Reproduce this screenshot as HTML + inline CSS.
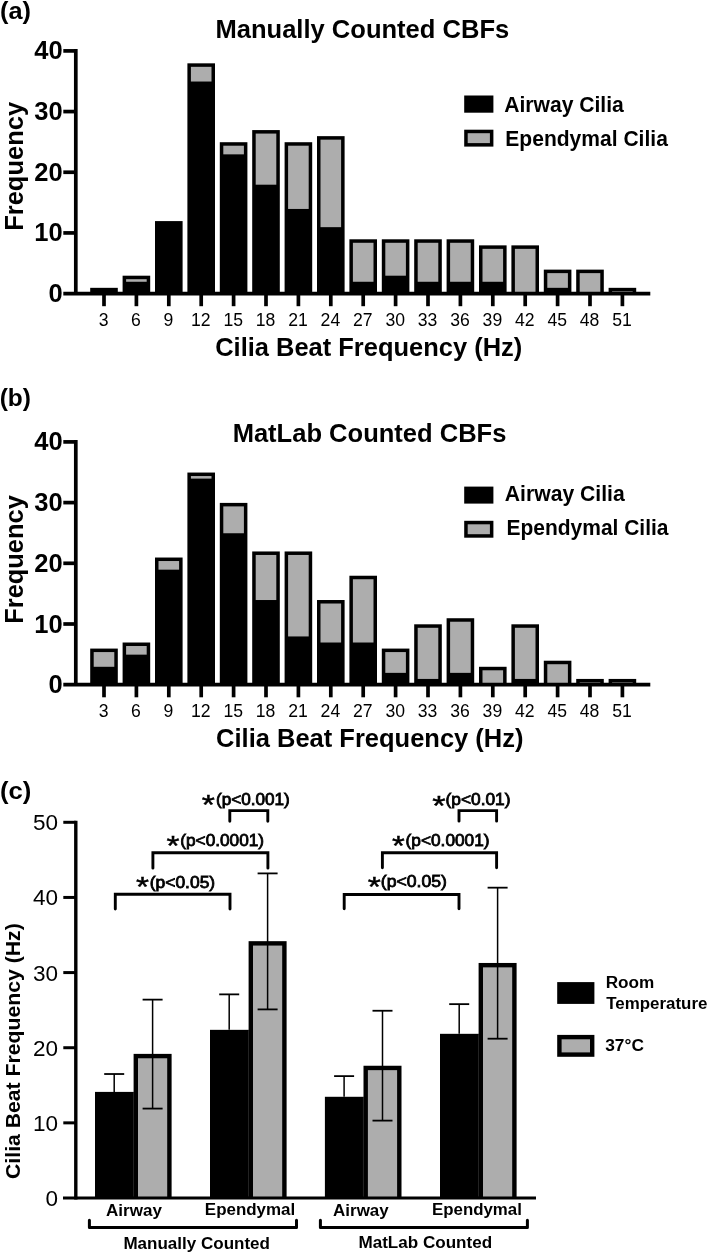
<!DOCTYPE html>
<html><head><meta charset="utf-8"><title>Cilia Beat Frequency</title>
<style>
html,body{margin:0;padding:0;background:#fff;}
body{width:709px;height:1255px;overflow:hidden;}
svg{display:block;}
text{font-family:'Liberation Sans', Arial, Helvetica, sans-serif;fill:#000;}
</style></head>
<body>
<svg width="709" height="1255" viewBox="0 0 709 1255">
<rect x="0" y="0" width="709" height="1255" fill="#fff"/>
<rect x="90.20" y="287.83" width="27.60" height="5.77" fill="#000"/>
<rect x="122.60" y="275.70" width="27.60" height="17.90" fill="#000"/>
<rect x="126.10" y="279.20" width="20.60" height="2.57" fill="#adadad"/>
<rect x="155.00" y="221.09" width="27.60" height="72.51" fill="#000"/>
<rect x="187.40" y="63.33" width="27.60" height="230.27" fill="#000"/>
<rect x="190.90" y="66.83" width="20.60" height="14.70" fill="#adadad"/>
<rect x="219.80" y="142.21" width="27.60" height="151.39" fill="#000"/>
<rect x="223.30" y="145.71" width="20.60" height="8.64" fill="#adadad"/>
<rect x="252.20" y="130.08" width="27.60" height="163.52" fill="#000"/>
<rect x="255.70" y="133.58" width="20.60" height="51.11" fill="#adadad"/>
<rect x="284.60" y="142.21" width="27.60" height="151.39" fill="#000"/>
<rect x="288.10" y="145.71" width="20.60" height="63.24" fill="#adadad"/>
<rect x="317.00" y="136.15" width="27.60" height="157.46" fill="#000"/>
<rect x="320.50" y="139.65" width="20.60" height="87.51" fill="#adadad"/>
<rect x="349.40" y="239.29" width="27.60" height="54.31" fill="#000"/>
<rect x="352.90" y="242.79" width="20.60" height="38.97" fill="#adadad"/>
<rect x="381.80" y="239.29" width="27.60" height="54.31" fill="#000"/>
<rect x="385.30" y="242.79" width="20.60" height="32.91" fill="#adadad"/>
<rect x="414.20" y="239.29" width="27.60" height="54.31" fill="#000"/>
<rect x="417.70" y="242.79" width="20.60" height="38.97" fill="#adadad"/>
<rect x="446.60" y="239.29" width="27.60" height="54.31" fill="#000"/>
<rect x="450.10" y="242.79" width="20.60" height="38.97" fill="#adadad"/>
<rect x="479.00" y="245.36" width="27.60" height="48.24" fill="#000"/>
<rect x="482.50" y="248.86" width="20.60" height="32.91" fill="#adadad"/>
<rect x="511.40" y="245.36" width="27.60" height="48.24" fill="#000"/>
<rect x="514.90" y="248.86" width="20.60" height="45.04" fill="#adadad"/>
<rect x="543.80" y="269.63" width="27.60" height="23.97" fill="#000"/>
<rect x="547.30" y="273.13" width="20.60" height="14.70" fill="#adadad"/>
<rect x="576.20" y="269.63" width="27.60" height="23.97" fill="#000"/>
<rect x="579.70" y="273.13" width="20.60" height="20.77" fill="#adadad"/>
<rect x="608.60" y="287.83" width="27.60" height="5.77" fill="#000"/>
<rect x="612.10" y="291.33" width="20.60" height="2.57" fill="#adadad"/>
<line x1="75.80" y1="49.05" x2="75.80" y2="293.60" stroke="#000" stroke-width="3.7" stroke-linecap="butt"/>
<line x1="63.30" y1="232.93" x2="75.80" y2="232.93" stroke="#000" stroke-width="3.7" stroke-linecap="butt"/>
<line x1="63.30" y1="172.25" x2="75.80" y2="172.25" stroke="#000" stroke-width="3.7" stroke-linecap="butt"/>
<line x1="63.30" y1="111.57" x2="75.80" y2="111.57" stroke="#000" stroke-width="3.7" stroke-linecap="butt"/>
<line x1="63.30" y1="50.90" x2="75.80" y2="50.90" stroke="#000" stroke-width="3.7" stroke-linecap="butt"/>
<line x1="63.30" y1="293.60" x2="650.30" y2="293.60" stroke="#000" stroke-width="3.7" stroke-linecap="butt"/>
<line x1="104.00" y1="293.60" x2="104.00" y2="306.20" stroke="#000" stroke-width="3.7" stroke-linecap="butt"/>
<line x1="136.40" y1="293.60" x2="136.40" y2="306.20" stroke="#000" stroke-width="3.7" stroke-linecap="butt"/>
<line x1="168.80" y1="293.60" x2="168.80" y2="306.20" stroke="#000" stroke-width="3.7" stroke-linecap="butt"/>
<line x1="201.20" y1="293.60" x2="201.20" y2="306.20" stroke="#000" stroke-width="3.7" stroke-linecap="butt"/>
<line x1="233.60" y1="293.60" x2="233.60" y2="306.20" stroke="#000" stroke-width="3.7" stroke-linecap="butt"/>
<line x1="266.00" y1="293.60" x2="266.00" y2="306.20" stroke="#000" stroke-width="3.7" stroke-linecap="butt"/>
<line x1="298.40" y1="293.60" x2="298.40" y2="306.20" stroke="#000" stroke-width="3.7" stroke-linecap="butt"/>
<line x1="330.80" y1="293.60" x2="330.80" y2="306.20" stroke="#000" stroke-width="3.7" stroke-linecap="butt"/>
<line x1="363.20" y1="293.60" x2="363.20" y2="306.20" stroke="#000" stroke-width="3.7" stroke-linecap="butt"/>
<line x1="395.60" y1="293.60" x2="395.60" y2="306.20" stroke="#000" stroke-width="3.7" stroke-linecap="butt"/>
<line x1="428.00" y1="293.60" x2="428.00" y2="306.20" stroke="#000" stroke-width="3.7" stroke-linecap="butt"/>
<line x1="460.40" y1="293.60" x2="460.40" y2="306.20" stroke="#000" stroke-width="3.7" stroke-linecap="butt"/>
<line x1="492.80" y1="293.60" x2="492.80" y2="306.20" stroke="#000" stroke-width="3.7" stroke-linecap="butt"/>
<line x1="525.20" y1="293.60" x2="525.20" y2="306.20" stroke="#000" stroke-width="3.7" stroke-linecap="butt"/>
<line x1="557.60" y1="293.60" x2="557.60" y2="306.20" stroke="#000" stroke-width="3.7" stroke-linecap="butt"/>
<line x1="590.00" y1="293.60" x2="590.00" y2="306.20" stroke="#000" stroke-width="3.7" stroke-linecap="butt"/>
<line x1="622.40" y1="293.60" x2="622.40" y2="306.20" stroke="#000" stroke-width="3.7" stroke-linecap="butt"/>
<text x="62.60" y="302.10" font-size="25.5" font-weight="bold" text-anchor="end">0</text>
<text x="62.60" y="241.43" font-size="25.5" font-weight="bold" text-anchor="end">10</text>
<text x="62.60" y="180.75" font-size="25.5" font-weight="bold" text-anchor="end">20</text>
<text x="62.60" y="120.07" font-size="25.5" font-weight="bold" text-anchor="end">30</text>
<text x="62.60" y="58.90" font-size="25.5" font-weight="bold" text-anchor="end">40</text>
<text x="103.60" y="325.50" font-size="17.6" text-anchor="middle">3</text>
<text x="136.00" y="325.50" font-size="17.6" text-anchor="middle">6</text>
<text x="168.40" y="325.50" font-size="17.6" text-anchor="middle">9</text>
<text x="200.80" y="325.50" font-size="17.6" text-anchor="middle">12</text>
<text x="233.20" y="325.50" font-size="17.6" text-anchor="middle">15</text>
<text x="265.60" y="325.50" font-size="17.6" text-anchor="middle">18</text>
<text x="298.00" y="325.50" font-size="17.6" text-anchor="middle">21</text>
<text x="330.40" y="325.50" font-size="17.6" text-anchor="middle">24</text>
<text x="362.80" y="325.50" font-size="17.6" text-anchor="middle">27</text>
<text x="395.20" y="325.50" font-size="17.6" text-anchor="middle">30</text>
<text x="427.60" y="325.50" font-size="17.6" text-anchor="middle">33</text>
<text x="460.00" y="325.50" font-size="17.6" text-anchor="middle">36</text>
<text x="492.40" y="325.50" font-size="17.6" text-anchor="middle">39</text>
<text x="524.80" y="325.50" font-size="17.6" text-anchor="middle">42</text>
<text x="557.20" y="325.50" font-size="17.6" text-anchor="middle">45</text>
<text x="589.60" y="325.50" font-size="17.6" text-anchor="middle">48</text>
<text x="622.00" y="325.50" font-size="17.6" text-anchor="middle">51</text>
<rect x="464.20" y="95.50" width="29.20" height="17.20" fill="#000"/>
<rect x="464.20" y="129.70" width="29.20" height="16.90" fill="#000"/>
<rect x="467.70" y="133.20" width="22.20" height="9.90" fill="#adadad"/>
<rect x="90.20" y="648.58" width="27.60" height="36.12" fill="#000"/>
<rect x="93.70" y="652.08" width="20.60" height="14.71" fill="#adadad"/>
<rect x="122.60" y="642.51" width="27.60" height="42.19" fill="#000"/>
<rect x="126.10" y="646.01" width="20.60" height="8.64" fill="#adadad"/>
<rect x="155.00" y="557.53" width="27.60" height="127.17" fill="#000"/>
<rect x="158.50" y="561.03" width="20.60" height="8.64" fill="#adadad"/>
<rect x="187.40" y="472.55" width="27.60" height="212.15" fill="#000"/>
<rect x="190.90" y="476.05" width="20.60" height="2.57" fill="#adadad"/>
<rect x="219.80" y="502.90" width="27.60" height="181.80" fill="#000"/>
<rect x="223.30" y="506.40" width="20.60" height="26.85" fill="#adadad"/>
<rect x="252.20" y="551.46" width="27.60" height="133.24" fill="#000"/>
<rect x="255.70" y="554.96" width="20.60" height="45.06" fill="#adadad"/>
<rect x="284.60" y="551.46" width="27.60" height="133.24" fill="#000"/>
<rect x="288.10" y="554.96" width="20.60" height="81.48" fill="#adadad"/>
<rect x="317.00" y="600.02" width="27.60" height="84.68" fill="#000"/>
<rect x="320.50" y="603.52" width="20.60" height="38.99" fill="#adadad"/>
<rect x="349.40" y="575.74" width="27.60" height="108.96" fill="#000"/>
<rect x="352.90" y="579.24" width="20.60" height="63.27" fill="#adadad"/>
<rect x="381.80" y="648.58" width="27.60" height="36.12" fill="#000"/>
<rect x="385.30" y="652.08" width="20.60" height="20.78" fill="#adadad"/>
<rect x="414.20" y="624.30" width="27.60" height="60.40" fill="#000"/>
<rect x="417.70" y="627.80" width="20.60" height="51.13" fill="#adadad"/>
<rect x="446.60" y="618.23" width="27.60" height="66.47" fill="#000"/>
<rect x="450.10" y="621.73" width="20.60" height="51.13" fill="#adadad"/>
<rect x="479.00" y="666.79" width="27.60" height="17.91" fill="#000"/>
<rect x="482.50" y="670.29" width="20.60" height="14.71" fill="#adadad"/>
<rect x="511.40" y="624.30" width="27.60" height="60.40" fill="#000"/>
<rect x="514.90" y="627.80" width="20.60" height="51.13" fill="#adadad"/>
<rect x="543.80" y="660.72" width="27.60" height="23.98" fill="#000"/>
<rect x="547.30" y="664.22" width="20.60" height="20.78" fill="#adadad"/>
<rect x="576.20" y="678.93" width="27.60" height="5.77" fill="#000"/>
<rect x="579.70" y="682.43" width="20.60" height="2.57" fill="#adadad"/>
<rect x="608.60" y="678.93" width="27.60" height="5.77" fill="#000"/>
<rect x="612.10" y="682.43" width="20.60" height="2.57" fill="#adadad"/>
<line x1="75.80" y1="440.05" x2="75.80" y2="684.70" stroke="#000" stroke-width="3.7" stroke-linecap="butt"/>
<line x1="63.30" y1="624.00" x2="75.80" y2="624.00" stroke="#000" stroke-width="3.7" stroke-linecap="butt"/>
<line x1="63.30" y1="563.30" x2="75.80" y2="563.30" stroke="#000" stroke-width="3.7" stroke-linecap="butt"/>
<line x1="63.30" y1="502.60" x2="75.80" y2="502.60" stroke="#000" stroke-width="3.7" stroke-linecap="butt"/>
<line x1="63.30" y1="441.90" x2="75.80" y2="441.90" stroke="#000" stroke-width="3.7" stroke-linecap="butt"/>
<line x1="63.30" y1="684.70" x2="650.30" y2="684.70" stroke="#000" stroke-width="3.7" stroke-linecap="butt"/>
<line x1="104.00" y1="684.70" x2="104.00" y2="697.30" stroke="#000" stroke-width="3.7" stroke-linecap="butt"/>
<line x1="136.40" y1="684.70" x2="136.40" y2="697.30" stroke="#000" stroke-width="3.7" stroke-linecap="butt"/>
<line x1="168.80" y1="684.70" x2="168.80" y2="697.30" stroke="#000" stroke-width="3.7" stroke-linecap="butt"/>
<line x1="201.20" y1="684.70" x2="201.20" y2="697.30" stroke="#000" stroke-width="3.7" stroke-linecap="butt"/>
<line x1="233.60" y1="684.70" x2="233.60" y2="697.30" stroke="#000" stroke-width="3.7" stroke-linecap="butt"/>
<line x1="266.00" y1="684.70" x2="266.00" y2="697.30" stroke="#000" stroke-width="3.7" stroke-linecap="butt"/>
<line x1="298.40" y1="684.70" x2="298.40" y2="697.30" stroke="#000" stroke-width="3.7" stroke-linecap="butt"/>
<line x1="330.80" y1="684.70" x2="330.80" y2="697.30" stroke="#000" stroke-width="3.7" stroke-linecap="butt"/>
<line x1="363.20" y1="684.70" x2="363.20" y2="697.30" stroke="#000" stroke-width="3.7" stroke-linecap="butt"/>
<line x1="395.60" y1="684.70" x2="395.60" y2="697.30" stroke="#000" stroke-width="3.7" stroke-linecap="butt"/>
<line x1="428.00" y1="684.70" x2="428.00" y2="697.30" stroke="#000" stroke-width="3.7" stroke-linecap="butt"/>
<line x1="460.40" y1="684.70" x2="460.40" y2="697.30" stroke="#000" stroke-width="3.7" stroke-linecap="butt"/>
<line x1="492.80" y1="684.70" x2="492.80" y2="697.30" stroke="#000" stroke-width="3.7" stroke-linecap="butt"/>
<line x1="525.20" y1="684.70" x2="525.20" y2="697.30" stroke="#000" stroke-width="3.7" stroke-linecap="butt"/>
<line x1="557.60" y1="684.70" x2="557.60" y2="697.30" stroke="#000" stroke-width="3.7" stroke-linecap="butt"/>
<line x1="590.00" y1="684.70" x2="590.00" y2="697.30" stroke="#000" stroke-width="3.7" stroke-linecap="butt"/>
<line x1="622.40" y1="684.70" x2="622.40" y2="697.30" stroke="#000" stroke-width="3.7" stroke-linecap="butt"/>
<text x="62.60" y="693.20" font-size="25.5" font-weight="bold" text-anchor="end">0</text>
<text x="62.60" y="632.50" font-size="25.5" font-weight="bold" text-anchor="end">10</text>
<text x="62.60" y="571.80" font-size="25.5" font-weight="bold" text-anchor="end">20</text>
<text x="62.60" y="511.10" font-size="25.5" font-weight="bold" text-anchor="end">30</text>
<text x="62.60" y="449.90" font-size="25.5" font-weight="bold" text-anchor="end">40</text>
<text x="103.60" y="716.60" font-size="17.6" text-anchor="middle">3</text>
<text x="136.00" y="716.60" font-size="17.6" text-anchor="middle">6</text>
<text x="168.40" y="716.60" font-size="17.6" text-anchor="middle">9</text>
<text x="200.80" y="716.60" font-size="17.6" text-anchor="middle">12</text>
<text x="233.20" y="716.60" font-size="17.6" text-anchor="middle">15</text>
<text x="265.60" y="716.60" font-size="17.6" text-anchor="middle">18</text>
<text x="298.00" y="716.60" font-size="17.6" text-anchor="middle">21</text>
<text x="330.40" y="716.60" font-size="17.6" text-anchor="middle">24</text>
<text x="362.80" y="716.60" font-size="17.6" text-anchor="middle">27</text>
<text x="395.20" y="716.60" font-size="17.6" text-anchor="middle">30</text>
<text x="427.60" y="716.60" font-size="17.6" text-anchor="middle">33</text>
<text x="460.00" y="716.60" font-size="17.6" text-anchor="middle">36</text>
<text x="492.40" y="716.60" font-size="17.6" text-anchor="middle">39</text>
<text x="524.80" y="716.60" font-size="17.6" text-anchor="middle">42</text>
<text x="557.20" y="716.60" font-size="17.6" text-anchor="middle">45</text>
<text x="589.60" y="716.60" font-size="17.6" text-anchor="middle">48</text>
<text x="622.00" y="716.60" font-size="17.6" text-anchor="middle">51</text>
<rect x="464.20" y="486.60" width="29.20" height="17.00" fill="#000"/>
<rect x="464.20" y="520.80" width="29.20" height="16.90" fill="#000"/>
<rect x="467.70" y="524.30" width="22.20" height="9.90" fill="#adadad"/>
<rect x="95.00" y="1091.90" width="38.90" height="106.10" fill="#000"/>
<rect x="133.60" y="1053.88" width="38.00" height="144.12" fill="#000"/>
<rect x="138.00" y="1058.28" width="29.20" height="139.72" fill="#adadad"/>
<rect x="210.00" y="1029.84" width="38.90" height="168.16" fill="#000"/>
<rect x="248.60" y="941.17" width="38.00" height="256.83" fill="#000"/>
<rect x="253.00" y="945.57" width="29.20" height="252.43" fill="#adadad"/>
<rect x="324.90" y="1096.79" width="38.90" height="101.21" fill="#000"/>
<rect x="363.50" y="1065.75" width="38.00" height="132.25" fill="#000"/>
<rect x="367.90" y="1070.15" width="29.20" height="127.85" fill="#adadad"/>
<rect x="440.00" y="1033.82" width="38.90" height="164.18" fill="#000"/>
<rect x="478.60" y="962.96" width="38.00" height="235.04" fill="#000"/>
<rect x="483.00" y="967.36" width="29.20" height="230.64" fill="#adadad"/>
<line x1="133.50" y1="1092.40" x2="133.50" y2="1196.50" stroke="#2b2b2b" stroke-width="0.7" stroke-linecap="butt"/>
<line x1="248.50" y1="1030.34" x2="248.50" y2="1196.50" stroke="#2b2b2b" stroke-width="0.7" stroke-linecap="butt"/>
<line x1="363.40" y1="1097.29" x2="363.40" y2="1196.50" stroke="#2b2b2b" stroke-width="0.7" stroke-linecap="butt"/>
<line x1="478.50" y1="1034.32" x2="478.50" y2="1196.50" stroke="#2b2b2b" stroke-width="0.7" stroke-linecap="butt"/>
<line x1="114.20" y1="1074.02" x2="114.20" y2="1091.90" stroke="#000" stroke-width="1.5" stroke-linecap="butt"/>
<line x1="104.20" y1="1074.02" x2="124.20" y2="1074.02" stroke="#000" stroke-width="1.8" stroke-linecap="butt"/>
<line x1="152.60" y1="999.63" x2="152.60" y2="1108.58" stroke="#000" stroke-width="1.5" stroke-linecap="butt"/>
<line x1="142.60" y1="999.63" x2="162.60" y2="999.63" stroke="#000" stroke-width="1.8" stroke-linecap="butt"/>
<line x1="142.60" y1="1108.58" x2="162.60" y2="1108.58" stroke="#000" stroke-width="1.8" stroke-linecap="butt"/>
<line x1="229.20" y1="994.37" x2="229.20" y2="1029.84" stroke="#000" stroke-width="1.5" stroke-linecap="butt"/>
<line x1="219.20" y1="994.37" x2="239.20" y2="994.37" stroke="#000" stroke-width="1.8" stroke-linecap="butt"/>
<line x1="267.60" y1="873.40" x2="267.60" y2="1009.40" stroke="#000" stroke-width="1.5" stroke-linecap="butt"/>
<line x1="257.60" y1="873.40" x2="277.60" y2="873.40" stroke="#000" stroke-width="1.8" stroke-linecap="butt"/>
<line x1="257.60" y1="1009.40" x2="277.60" y2="1009.40" stroke="#000" stroke-width="1.8" stroke-linecap="butt"/>
<line x1="344.10" y1="1076.12" x2="344.10" y2="1096.79" stroke="#000" stroke-width="1.5" stroke-linecap="butt"/>
<line x1="334.10" y1="1076.12" x2="354.10" y2="1076.12" stroke="#000" stroke-width="1.8" stroke-linecap="butt"/>
<line x1="382.50" y1="1010.75" x2="382.50" y2="1120.61" stroke="#000" stroke-width="1.5" stroke-linecap="butt"/>
<line x1="372.50" y1="1010.75" x2="392.50" y2="1010.75" stroke="#000" stroke-width="1.8" stroke-linecap="butt"/>
<line x1="372.50" y1="1120.61" x2="392.50" y2="1120.61" stroke="#000" stroke-width="1.8" stroke-linecap="butt"/>
<line x1="459.20" y1="1004.14" x2="459.20" y2="1033.82" stroke="#000" stroke-width="1.5" stroke-linecap="butt"/>
<line x1="449.20" y1="1004.14" x2="469.20" y2="1004.14" stroke="#000" stroke-width="1.8" stroke-linecap="butt"/>
<line x1="497.60" y1="887.67" x2="497.60" y2="1038.70" stroke="#000" stroke-width="1.5" stroke-linecap="butt"/>
<line x1="487.60" y1="887.67" x2="507.60" y2="887.67" stroke="#000" stroke-width="1.8" stroke-linecap="butt"/>
<line x1="487.60" y1="1038.70" x2="507.60" y2="1038.70" stroke="#000" stroke-width="1.8" stroke-linecap="butt"/>
<line x1="75.80" y1="820.80" x2="75.80" y2="1199.50" stroke="#000" stroke-width="3.4" stroke-linecap="butt"/>
<line x1="63.30" y1="1122.86" x2="75.80" y2="1122.86" stroke="#000" stroke-width="3.0" stroke-linecap="butt"/>
<line x1="63.30" y1="1047.72" x2="75.80" y2="1047.72" stroke="#000" stroke-width="3.0" stroke-linecap="butt"/>
<line x1="63.30" y1="972.58" x2="75.80" y2="972.58" stroke="#000" stroke-width="3.0" stroke-linecap="butt"/>
<line x1="63.30" y1="897.44" x2="75.80" y2="897.44" stroke="#000" stroke-width="3.0" stroke-linecap="butt"/>
<line x1="63.30" y1="822.30" x2="75.80" y2="822.30" stroke="#000" stroke-width="3.0" stroke-linecap="butt"/>
<line x1="63.00" y1="1198.00" x2="536.00" y2="1198.00" stroke="#000" stroke-width="3.0" stroke-linecap="butt"/>
<text x="58.00" y="1206.05" font-size="22.5" text-anchor="end">0</text>
<text x="58.00" y="1130.91" font-size="22.5" text-anchor="end">10</text>
<text x="58.00" y="1055.77" font-size="22.5" text-anchor="end">20</text>
<text x="58.00" y="980.63" font-size="22.5" text-anchor="end">30</text>
<text x="58.00" y="905.49" font-size="22.5" text-anchor="end">40</text>
<text x="58.00" y="830.35" font-size="22.5" text-anchor="end">50</text>
<path d="M115.30,908.95 V894.30 H230.00 V908.95" fill="none" stroke="#000" stroke-width="2.9" stroke-linejoin="miter" stroke-linecap="round"/>
<path d="M152.90,868.15 V852.70 H267.90 V868.15" fill="none" stroke="#000" stroke-width="2.9" stroke-linejoin="miter" stroke-linecap="round"/>
<path d="M229.80,821.35 V810.60 H267.80 V821.35" fill="none" stroke="#000" stroke-width="2.9" stroke-linejoin="miter" stroke-linecap="round"/>
<path d="M344.20,908.75 V894.50 H459.00 V908.75" fill="none" stroke="#000" stroke-width="2.9" stroke-linejoin="miter" stroke-linecap="round"/>
<path d="M382.40,867.75 V852.70 H496.60 V867.75" fill="none" stroke="#000" stroke-width="2.9" stroke-linejoin="miter" stroke-linecap="round"/>
<path d="M459.00,821.15 V810.60 H496.60 V821.15" fill="none" stroke="#000" stroke-width="2.9" stroke-linejoin="miter" stroke-linecap="round"/>
<path d="M89.40,1220.30 V1227.40 H296.50 V1220.30" fill="none" stroke="#000" stroke-width="3.0" stroke-linejoin="round" stroke-linecap="round"/>
<path d="M320.40,1220.30 V1227.40 H527.40 V1220.30" fill="none" stroke="#000" stroke-width="3.0" stroke-linejoin="round" stroke-linecap="round"/>
<rect x="557.20" y="982.10" width="37.20" height="21.80" fill="#000"/>
<rect x="557.20" y="1034.90" width="37.20" height="21.90" fill="#000"/>
<rect x="561.60" y="1039.30" width="28.40" height="13.10" fill="#adadad"/>
<text x="0.04" y="18.90" font-size="24" font-weight="bold" textLength="30.97" lengthAdjust="spacingAndGlyphs">(a)</text>
<text x="-0.32" y="406.00" font-size="24" font-weight="bold" textLength="31.29" lengthAdjust="spacingAndGlyphs">(b)</text>
<text x="-0.07" y="799.00" font-size="24" font-weight="bold" textLength="31.41" lengthAdjust="spacingAndGlyphs">(c)</text>
<text x="215.46" y="37.90" font-size="25" font-weight="bold" textLength="293.79" lengthAdjust="spacingAndGlyphs">Manually Counted CBFs</text>
<text x="232.66" y="442.00" font-size="25" font-weight="bold" textLength="273.71" lengthAdjust="spacingAndGlyphs">MatLab Counted CBFs</text>
<text x="215.18" y="355.80" font-size="25" font-weight="bold" textLength="307.10" lengthAdjust="spacingAndGlyphs">Cilia Beat Frequency (Hz)</text>
<text x="216.08" y="746.90" font-size="25" font-weight="bold" textLength="307.40" lengthAdjust="spacingAndGlyphs">Cilia Beat Frequency (Hz)</text>
<text x="504.13" y="111.50" font-size="21.7" font-weight="bold" textLength="119.73" lengthAdjust="spacingAndGlyphs">Airway Cilia</text>
<text x="505.33" y="145.60" font-size="21.7" font-weight="bold" textLength="162.52" lengthAdjust="spacingAndGlyphs">Ependymal Cilia</text>
<text x="504.82" y="500.80" font-size="21.7" font-weight="bold" textLength="119.93" lengthAdjust="spacingAndGlyphs">Airway Cilia</text>
<text x="506.43" y="535.30" font-size="21.7" font-weight="bold" textLength="162.11" lengthAdjust="spacingAndGlyphs">Ependymal Cilia</text>
<text transform="translate(23.00,228.80) rotate(-90)" x="-2.00" y="0" font-size="25.5" font-weight="bold" textLength="128.87" lengthAdjust="spacingAndGlyphs">Frequency</text>
<text transform="translate(23.00,621.80) rotate(-90)" x="-2.00" y="0" font-size="25.5" font-weight="bold" textLength="128.66" lengthAdjust="spacingAndGlyphs">Frequency</text>
<text transform="translate(20.00,1177.90) rotate(-90)" x="-1.05" y="0" font-size="20.2" font-weight="bold" textLength="255.66" lengthAdjust="spacingAndGlyphs">Cilia Beat Frequency (Hz)</text>
<text x="605.73" y="988.40" font-size="16" font-weight="bold" textLength="48.60" lengthAdjust="spacingAndGlyphs">Room</text>
<text x="606.30" y="1008.90" font-size="16" font-weight="bold" textLength="101.08" lengthAdjust="spacingAndGlyphs">Temperature</text>
<text x="605.25" y="1050.70" font-size="16.5" font-weight="bold" textLength="38.67" lengthAdjust="spacingAndGlyphs">37°C</text>
<text x="106.04" y="1215.50" font-size="16" font-weight="bold" textLength="55.86" lengthAdjust="spacingAndGlyphs">Airway</text>
<text x="204.84" y="1215.30" font-size="16" font-weight="bold" textLength="90.40" lengthAdjust="spacingAndGlyphs">Ependymal</text>
<text x="333.14" y="1215.50" font-size="16" font-weight="bold" textLength="55.56" lengthAdjust="spacingAndGlyphs">Airway</text>
<text x="432.05" y="1215.30" font-size="16" font-weight="bold" textLength="89.78" lengthAdjust="spacingAndGlyphs">Ependymal</text>
<text x="123.44" y="1248.60" font-size="16" font-weight="bold" textLength="146.49" lengthAdjust="spacingAndGlyphs">Manually Counted</text>
<text x="358.43" y="1248.40" font-size="16" font-weight="bold" textLength="133.68" lengthAdjust="spacingAndGlyphs">MatLab Counted</text>
<text x="149.81" y="887.60" font-size="16" textLength="65.33" lengthAdjust="spacingAndGlyphs" stroke="#000" stroke-width="0.8">(p&lt;0.05)</text>
<text x="180.32" y="845.70" font-size="16" textLength="83.78" lengthAdjust="spacingAndGlyphs" stroke="#000" stroke-width="0.8">(p&lt;0.0001)</text>
<text x="215.93" y="805.40" font-size="16" textLength="73.88" lengthAdjust="spacingAndGlyphs" stroke="#000" stroke-width="0.8">(p&lt;0.001)</text>
<text x="380.80" y="887.40" font-size="16" textLength="66.16" lengthAdjust="spacingAndGlyphs" stroke="#000" stroke-width="0.8">(p&lt;0.05)</text>
<text x="405.62" y="845.70" font-size="16" textLength="83.89" lengthAdjust="spacingAndGlyphs" stroke="#000" stroke-width="0.8">(p&lt;0.0001)</text>
<text x="445.52" y="805.10" font-size="16" textLength="65.02" lengthAdjust="spacingAndGlyphs" stroke="#000" stroke-width="0.8">(p&lt;0.01)</text>
<text x="136.02" y="896.40" font-size="28.3" textLength="12.97" lengthAdjust="spacingAndGlyphs" stroke="#000" stroke-width="0.45">*</text>
<text x="166.52" y="855.40" font-size="28.3" textLength="12.97" lengthAdjust="spacingAndGlyphs" stroke="#000" stroke-width="0.45">*</text>
<text x="201.71" y="814.40" font-size="28.3" textLength="13.10" lengthAdjust="spacingAndGlyphs" stroke="#000" stroke-width="0.45">*</text>
<text x="367.71" y="896.40" font-size="28.3" textLength="13.10" lengthAdjust="spacingAndGlyphs" stroke="#000" stroke-width="0.45">*</text>
<text x="392.04" y="855.40" font-size="28.3" textLength="12.73" lengthAdjust="spacingAndGlyphs" stroke="#000" stroke-width="0.45">*</text>
<text x="432.19" y="814.50" font-size="28.3" textLength="13.34" lengthAdjust="spacingAndGlyphs" stroke="#000" stroke-width="0.45">*</text>
</svg>
</body></html>
